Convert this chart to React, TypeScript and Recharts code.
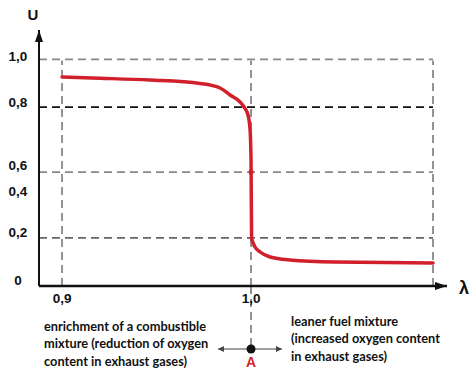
import React from "react";
import {
  LineChart,
  Line,
  XAxis,
  YAxis,
  ReferenceLine,
  ReferenceDot,
} from "recharts";

// lambda vs sensor voltage (schematic units)
const lambdas = [0.9, 0.9201, 0.9466, 0.973, 0.9836, 0.9889, 0.9942, 0.9963, 0.9984, 0.9995, 1.0, 1.0003, 1.0011, 1.0021, 1.0048, 1.0101, 1.0206, 1.0444, 1.0963];
const voltages = [0.922, 0.917, 0.909, 0.894, 0.874, 0.843, 0.812, 0.79, 0.755, 0.689, 0.556, 0.212, 0.19, 0.172, 0.15, 0.128, 0.115, 0.106, 0.102];

const yTickPos = [0.026, 0.238, 0.415, 0.53, 0.808, 1.015];
const yTickLabels = ["0", "0,2", "0,4", "0,6", "0,8", "1,0"];
const xTickPos = [0.9, 1.0];
const xTickLabels = ["0,9", "1,0"];

// dashed guide lines: level, colour
const hGuides = [1.0, 0.79, 0.503, 0.212];
const hGuideColors = ["#888", "#111", "#888", "#666"];
const vGuides = [0.9, 1.0, 1.0963];

const pointA = { lambda: 1.0, u: -0.278 };
const arrowSpan = [0.9825, 1.0164];

const data = lambdas.map((l, i) => ({ lambda: l, u: voltages[i] }));

const RED = "#d21f2c";
const labelFont = "'Liberation Sans', Arial, sans-serif";

const YTick = (props: any) => {
  const { y, index } = props;
  return (
    <text x={18} y={y} dy={4.5} textAnchor="middle" fontFamily={labelFont} fontWeight="bold" fontSize={13.5} fill="#111">
      {yTickLabels[index]}
    </text>
  );
};

const XTick = (props: any) => {
  const { x, index } = props;
  return (
    <text x={x} y={298} dy={5} textAnchor="middle" fontFamily={labelFont} fontWeight="bold" fontSize={13.5} fill="#111">
      {xTickLabels[index]}
    </text>
  );
};

const noteStyle: React.CSSProperties = {
  position: "absolute",
  fontFamily: "Lato, sans-serif",
  fontWeight: 700,
  fontSize: 12.8,
  lineHeight: "17.3px",
  color: "#111",
  whiteSpace: "nowrap",
};

export default function App() {
  return (
    <div style={{ position: "relative", width: 474, height: 381, background: "#fff" }}>
      <style>{"body{margin:0}"}</style>
      <LineChart width={474} height={381} data={data} margin={{ top: 30, right: 27, left: 0, bottom: 0 }}>
        <defs>
          <marker id="arrowHead" viewBox="0 0 12 8" refX="12" refY="4" markerWidth="12" markerHeight="8" markerUnits="userSpaceOnUse" orient="auto-start-reverse">
            <path d="M0,0 L12,4 L0,8 z" fill="#111" />
          </marker>
          <marker id="smallHead" viewBox="0 0 6 6" refX="6" refY="3" markerWidth="6" markerHeight="6" markerUnits="userSpaceOnUse" orient="auto-start-reverse">
            <path d="M0,0 L6,3 L0,6 z" fill="#444" />
          </marker>
        </defs>
        <XAxis
          dataKey="lambda"
          type="number"
          domain={[0.8878, 1.1037]}
          allowDataOverflow
          ticks={xTickPos}
          tick={<XTick />}
          tickLine={false}
          height={95}
          axisLine={{ stroke: "#111", strokeWidth: 2.5, markerEnd: "url(#arrowHead)" }}
        />
        <YAxis
          type="number"
          domain={[0, 1.13]}
          allowDataOverflow
          ticks={yTickPos}
          tick={<YTick />}
          tickLine={false}
          width={39}
          axisLine={{ stroke: "#111", strokeWidth: 2, markerStart: "url(#arrowHead)" }}
        />
        {hGuides.map((v, i) => (
          <ReferenceLine
            key={"h" + i}
            segment={[{ x: 0.8878, y: v }, { x: 1.0963, y: v }]}
            stroke={hGuideColors[i]}
            strokeWidth={1.8}
            strokeDasharray="8 5"
          />
        ))}
        {vGuides.map((v, i) => (
          <ReferenceLine
            key={"v" + i}
            segment={[{ x: v, y: 0 }, { x: v, y: 0.995 }]}
            stroke="#888"
            strokeWidth={1.8}
            strokeDasharray="8 5"
          />
        ))}
        <ReferenceLine
          segment={[{ x: pointA.lambda, y: 0 }, { x: pointA.lambda, y: pointA.u }]}
          stroke="#888"
          strokeWidth={1.8}
          strokeDasharray="8 5"
          ifOverflow="visible"
        />
        <ReferenceLine
          segment={[{ x: arrowSpan[0], y: pointA.u }, { x: arrowSpan[1], y: pointA.u }]}
          stroke="#444"
          strokeWidth={1.2}
          markerStart="url(#smallHead)"
          markerEnd="url(#smallHead)"
          ifOverflow="visible"
        />
        <Line
          type="monotone"
          dataKey="u"
          stroke={RED}
          strokeWidth={3.5}
          dot={false}
          isAnimationActive={false}
          strokeLinejoin="round"
          strokeLinecap="round"
        />
        <ReferenceDot x={1.0} y={0.503} r={2.5} fill={RED} stroke="none" />
        <ReferenceDot
          x={pointA.lambda}
          y={pointA.u}
          r={4.5}
          fill="#111"
          stroke="none"
          ifOverflow="visible"
          label={{ value: "A", position: "bottom", offset: 4, fill: RED, fontSize: 14, fontWeight: "bold", fontFamily: labelFont }}
        />
        <text x={33} y={20} textAnchor="middle" fontFamily={labelFont} fontWeight="bold" fontSize={15} fill="#111">U</text>
        <text x={464} y={294} textAnchor="middle" fontFamily={labelFont} fontWeight="bold" fontSize={18} fill="#111">λ</text>
      </LineChart>
      <div style={{ ...noteStyle, left: 44, top: 318 }}>
        enrichment of a combustible<br />mixture (reduction of oxygen<br />content in exhaust gases)
      </div>
      <div style={{ ...noteStyle, left: 291, top: 313 }}>
        leaner fuel mixture<br />(increased oxygen content<br />in exhaust gases)
      </div>
    </div>
  );
}
